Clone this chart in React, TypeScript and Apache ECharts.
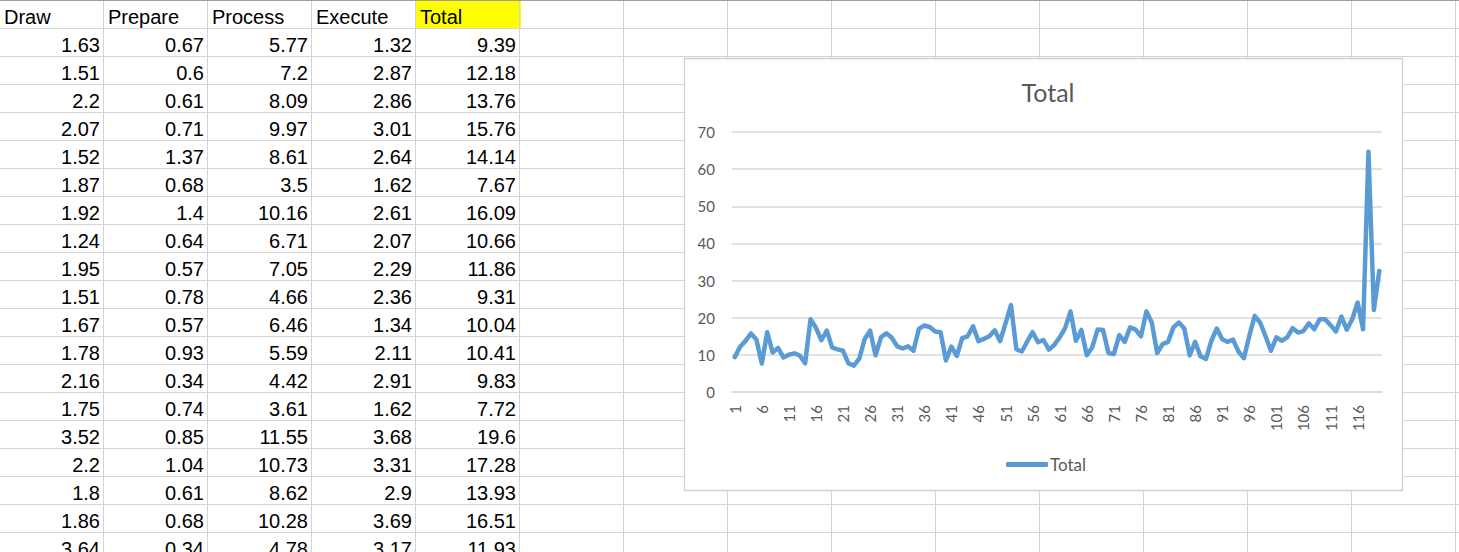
import React, { useEffect, useRef } from "react";
import * as echarts from "echarts";

const headers = ["Draw", "Prepare", "Process", "Execute", "Total"];
const drawCol = [1.63, 1.51, 2.2, 2.07, 1.52, 1.87, 1.92, 1.24, 1.95, 1.51, 1.67, 1.78, 2.16, 1.75, 3.52, 2.2, 1.8, 1.86, 3.64];
const prepareCol = [0.67, 0.6, 0.61, 0.71, 1.37, 0.68, 1.4, 0.64, 0.57, 0.78, 0.57, 0.93, 0.34, 0.74, 0.85, 1.04, 0.61, 0.68, 0.34];
const processCol = [5.77, 7.2, 8.09, 9.97, 8.61, 3.5, 10.16, 6.71, 7.05, 4.66, 6.46, 5.59, 4.42, 3.61, 11.55, 10.73, 8.62, 10.28, 4.78];
const executeCol = [1.32, 2.87, 2.86, 3.01, 2.64, 1.62, 2.61, 2.07, 2.29, 2.36, 1.34, 2.11, 2.91, 1.62, 3.68, 3.31, 2.9, 3.69, 3.17];
const totalCol = [9.39, 12.18, 13.76, 15.76, 14.14, 7.67, 16.09, 10.66, 11.86, 9.31, 10.04, 10.41, 9.83, 7.72, 19.6, 17.28, 13.93, 16.51, 11.93];

const totalSeries = [
  9.39, 12.18, 13.76, 15.76, 14.14, 7.67, 16.09, 10.66, 11.86, 9.31,
  10.04, 10.41, 9.83, 7.72, 19.6, 17.28, 13.93, 16.51, 11.93, 11.5,
  11.1, 7.7, 7.1, 9.0, 14.3, 16.5, 9.9, 14.7, 15.8, 14.6,
  12.3, 11.7, 12.3, 11.1, 17.0, 17.9, 17.5, 16.3, 16.1, 8.5,
  12.2, 9.7, 14.5, 15.0, 17.7, 13.7, 14.3, 15.0, 16.6, 13.7,
  18.5, 23.4, 11.5, 10.9, 13.6, 16.1, 13.4, 14.0, 11.4, 12.7,
  14.7, 17.2, 21.7, 13.8, 16.7, 9.9, 12.0, 16.8, 16.7, 10.5,
  10.2, 15.3, 13.5, 17.4, 16.8, 15.0, 21.7, 18.7, 10.5, 12.9,
  13.5, 17.4, 18.7, 17.1, 9.9, 13.5, 9.6, 8.9, 13.8, 17.1,
  14.2, 13.5, 14.1, 10.9, 9.1, 15.1, 20.5, 18.7, 15.0, 11.1,
  14.7, 13.8, 14.7, 17.2, 16.0, 16.4, 18.5, 16.9, 19.6, 19.6,
  18.0, 16.3, 20.3, 16.8, 19.6, 24.1, 16.9, 64.7, 22.1, 32.6,
];
const categories = totalSeries.map((_, i) => String(i + 1));

const W = 1459;
const H = 552;
const COL_W = 104;
const ROW_H = 28;
const SHEET_FONT = "'Liberation Sans', Arial, sans-serif";
const CHART_FONT = "Lato, 'Open Sans', sans-serif";
const TEXT_GRAY = "#595959";

function buildSheetGraphics() {
  const els: any[] = [];
  els.push({ type: "rect", z: -12, shape: { x: 416, y: 1, width: 105, height: 27 }, style: { fill: "#ffff00" } });
  for (let k = 1; k * COL_W <= W; k++) {
    const x = k * COL_W - 0.5;
    els.push({ type: "line", z: -11, shape: { x1: x, y1: 0, x2: x, y2: H }, style: { stroke: "#d4d4d4", lineWidth: 1 } });
  }
  for (let r = 1; r * ROW_H <= H; r++) {
    const y = r * ROW_H + 0.5;
    els.push({ type: "line", z: -11, shape: { x1: 0, y1: y, x2: W, y2: y }, style: { stroke: "#d4d4d4", lineWidth: 1 } });
  }
  els.push({ type: "line", z: -10, shape: { x1: 0, y1: 0.5, x2: W, y2: 0.5 }, style: { stroke: "#9e9e9e", lineWidth: 1 } });
  headers.forEach((h, c) => {
    els.push({
      type: "text", z: -9, x: c * COL_W + 4, y: 16.5,
      style: { text: h, fill: "#000", font: `20px ${SHEET_FONT}`, align: "left", verticalAlign: "middle" },
    });
  });
  const cols = [drawCol, prepareCol, processCol, executeCol, totalCol];
  cols.forEach((col, c) => {
    col.forEach((v, r) => {
      els.push({
        type: "text", z: -9, x: (c + 1) * COL_W - 4, y: (r + 1) * ROW_H + 16.5,
        style: { text: String(v), fill: "#000", font: `20px ${SHEET_FONT}`, align: "right", verticalAlign: "middle" },
      });
    });
  });
  els.push({
    type: "rect", z: -5, shape: { x: 684.5, y: 58.5, width: 718, height: 432 },
    style: { fill: "#ffffff", stroke: "#d0d0d0", lineWidth: 1.3 },
  });
  return els;
}

export default function App() {
  const ref = useRef<HTMLDivElement>(null);
  useEffect(() => {
    if (!ref.current) return;
    const chart = echarts.init(ref.current, null, { renderer: "svg" });
    chart.setOption({
      animation: false,
      backgroundColor: "#ffffff",
      graphic: { elements: buildSheetGraphics() },
      title: {
        text: "Total",
        left: 1043,
        top: 74,
        textAlign: "center",
        textStyle: { color: TEXT_GRAY, fontSize: 25, fontWeight: "normal", fontFamily: CHART_FONT },
      },
      legend: {
        data: ["Total"],
        left: 1001,
        top: 451,
        icon: "roundRect",
        itemWidth: 42,
        itemHeight: 5,
        textStyle: { color: TEXT_GRAY, fontSize: 17, fontFamily: CHART_FONT, padding: [0, 0, 0, -3] },
      },
      grid: { left: 732, right: W - 1382, top: 132, bottom: H - 392, containLabel: false },
      xAxis: {
        type: "category",
        data: categories,
        boundaryGap: true,
        axisTick: { show: false },
        axisLine: { lineStyle: { color: "#d9d9d9", width: 1.5 } },
        axisLabel: { interval: 4, rotate: 90, margin: 13, color: TEXT_GRAY, fontSize: 15, fontFamily: CHART_FONT },
      },
      yAxis: {
        type: "value",
        min: 0,
        max: 70,
        interval: 10,
        axisLine: { show: false },
        axisTick: { show: false },
        axisLabel: { margin: 17, color: TEXT_GRAY, fontSize: 15, fontFamily: CHART_FONT },
        splitLine: { lineStyle: { color: "#d9d9d9", width: 1.5 } },
      },
      series: [
        {
          name: "Total",
          type: "line",
          data: totalSeries,
          symbol: "none",
          showSymbol: false,
          itemStyle: { color: "#5b9bd5" },
          lineStyle: { color: "#5b9bd5", width: 4.5, cap: "round", join: "round" },
        },
      ],
    });
    return () => chart.dispose();
  }, []);
  return (
    <div style={{ position: "absolute", left: 0, top: 0, width: W, height: H, overflow: "hidden" }}>
      <div ref={ref} style={{ width: W, height: H }} />
    </div>
  );
}
